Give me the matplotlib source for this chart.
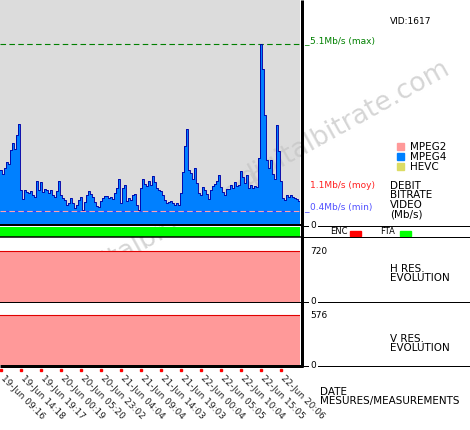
import numpy as np
import matplotlib
matplotlib.use("Agg")
from matplotlib import pyplot as plt
from matplotlib.patches import Rectangle
from matplotlib.transforms import blended_transform_factory, ScaledTranslation

plt.rcParams['font.family'] = ['DejaVu Sans']

# ---- data ----
bitrate = [
    1.56, 1.45, 1.62, 1.79, 1.72, 2.12, 2.32, 2.15, 2.55, 2.86,
    1.00, 0.75, 1.00, 0.95, 0.92, 0.97, 0.86, 0.80, 1.25, 1.00,
    1.22, 0.95, 1.03, 1.00, 0.92, 1.00, 0.85, 0.80, 0.97, 1.25,
    0.85, 0.78, 0.72, 0.58, 0.62, 0.77, 0.62, 0.50, 0.58, 0.72,
    0.80, 0.45, 0.66, 0.85, 0.98, 0.90, 0.80, 0.66, 0.55, 0.52,
    0.68, 0.77, 0.82, 0.82, 0.77, 0.80, 0.75, 0.92, 1.05, 1.30,
    0.62, 1.06, 1.14, 0.70, 0.77, 0.72, 0.85, 0.88, 0.58, 0.45,
    1.06, 1.32, 1.18, 1.12, 1.25, 1.15, 1.40, 1.22, 1.05, 1.00,
    0.98, 0.86, 0.72, 0.62, 0.66, 0.68, 0.63, 0.58, 0.63, 0.58,
    0.92, 1.50, 2.25, 2.72, 1.55, 1.48, 1.30, 1.62, 1.20, 0.92,
    0.86, 1.08, 1.00, 0.90, 0.75, 1.00, 1.12, 1.18, 1.25, 1.42,
    1.08, 0.94, 0.86, 1.03, 1.02, 1.15, 1.06, 1.22, 1.12, 1.15,
    1.52, 1.36, 1.20, 1.42, 1.06, 1.14, 1.05, 1.12, 1.08, 1.90,
    5.10, 4.40, 3.10, 1.85, 1.62, 1.84, 1.45, 1.30, 2.83, 2.10,
    1.25, 0.78, 0.72, 0.85, 0.80, 0.86, 0.80, 0.76, 0.74, 0.70,
]
rate_max = 5.1
rate_avg = 1.1
rate_min = 0.4
h_res = 720
v_res = 576
vid = 1617
date_labels = [
    "19-Jun 09:16", "19-Jun 14:18", "19-Jun 19:17", "20-Jun 00:19",
    "20-Jun 05:20", "20-Jun 23:02", "21-Jun 04:04", "21-Jun 09:04",
    "21-Jun 14:03", "21-Jun 19:03", "22-Jun 00:04", "22-Jun 05:05",
    "22-Jun 10:04", "22-Jun 15:05", "22-Jun 20:06",
]
codecs = ["MPEG2", "MPEG4", "HEVC"]
codec_colors = ["#ff9999", "#0080ff", "#dcdc64"]

W, H = 470, 430


def box(x0, y0, x1, y1):
    # pixel rectangle -> figure fraction
    return [x0 / W, 1 - y1 / H, (x1 - x0) / W, (y1 - y0) / H]


def bare(a):
    a.set_xticks([])
    a.set_yticks([])
    for s in a.spines.values():
        s.set_visible(False)


fig = plt.figure(figsize=(W / 100, H / 100), dpi=100)
fig.patch.set_facecolor("white")

n = len(bitrate)
edges = np.arange(n + 1)
vals = np.append(bitrate, bitrate[-1])

# ---- bitrate panel ----
ax = fig.add_axes(box(0, 0, 300, 225.5))
ax.set_facecolor("#dcdcdc")
bare(ax)
ax.set_xlim(0, n)
ax.set_ylim(0, 225.5 / 35.53)
ax.fill_between(edges, vals, step="post", color=codec_colors[1], lw=0, zorder=1)
ax.step(edges, vals, where="post", color="#0000a8", lw=0.65, zorder=2)
ax.axhline(rate_max, color="#008000", ls=(0, (5, 3)), lw=0.8, zorder=1.5)
ax.axhline(rate_min, color="#ff9fb0", ls=(0, (5, 3)), gapcolor="#3040ff", lw=0.8, zorder=3)

# watermark, under the data
for cx, cy in [(345, 124), (172, 226)]:
    ax.text(cx / W, 1 - cy / H, "digitalbitrate.com", transform=fig.transFigure,
            rotation=29, ha="center", va="center", fontsize=19,
            color="#c4c4c4", alpha=0.7, zorder=0.5, clip_on=False)

tr = blended_transform_factory(ax.transAxes, ax.transData)
ax.text(1.013, rate_max, "_", color="#008000", fontsize=6.5, transform=tr, va="baseline")
ax.text(1.033, rate_max, f"{rate_max}Mb/s (max)", color="#008000", fontsize=6.5,
        transform=tr, va="baseline")
ax.text(1.033, rate_avg - 0.05, f"{rate_avg}Mb/s (moy)", color="#ff2020", fontsize=6.5,
        transform=tr, va="baseline")
ax.text(1.013, rate_min, "_", color="#5050ff", fontsize=6.5, transform=tr, va="baseline")
ax.text(1.033, rate_min + 0.03, f"{rate_min}Mb/s (min)", color="#5050ff", fontsize=6.5,
        transform=tr, va="baseline")

# ---- FTA bar ----
ax_f = fig.add_axes(box(0, 226.5, 300, 236.5))
ax_f.set_facecolor("#00ff00")
bare(ax_f)

# ---- resolution panels ----
ax_h = fig.add_axes(box(0, 237.5, 300, 302))
ax_h.set_facecolor("none")
bare(ax_h)
ax_h.set_xlim(0, n)
ax_h.set_ylim(0, h_res * 64.5 / 51)
ax_h.fill_between(edges, [h_res] * (n + 1), color="#ff9999", lw=0)
ax_h.plot(edges, [h_res] * (n + 1), color="#e00000", lw=0.8)
trh = blended_transform_factory(ax_h.transAxes, ax_h.transData)
ax_h.text(1.033, h_res, str(h_res), fontsize=6.5, transform=trh, va="center")

ax_v = fig.add_axes(box(0, 302.5, 300, 365.5))
ax_v.set_facecolor("none")
for s in ax_v.spines.values():
    s.set_visible(False)
ax_v.set_yticks([])
ax_v.set_xlim(0, n)
ax_v.set_ylim(0, v_res * 63 / 50.5)
ax_v.fill_between(edges, [v_res] * (n + 1), color="#ff9999", lw=0)
ax_v.plot(edges, [v_res] * (n + 1), color="#e00000", lw=0.8)
trv = blended_transform_factory(ax_v.transAxes, ax_v.transData)
ax_v.text(1.033, v_res, str(v_res), fontsize=6.5, transform=trv, va="center")

ticks = np.arange(len(date_labels)) * 10
ax_v.set_xticks(ticks)
ax_v.set_xticklabels(date_labels, rotation=-45, ha="left", va="top",
                     rotation_mode="anchor", fontsize=6.5, color="#202020")
ax_v.tick_params(axis="x", length=0, pad=6)
shift = ScaledTranslation(5 / 100, 0, fig.dpi_scale_trans)
for lbl in ax_v.get_xticklabels():
    lbl.set_transform(lbl.get_transform() + shift)
ax_v.plot(ticks + 0.4, [-0.075] * len(ticks), "s", ms=1.6, color="#ff0000",
          transform=blended_transform_factory(ax_v.transData, ax_v.transAxes),
          clip_on=False)

# ---- frame lines and right-hand annotations (pixel overlay) ----
ov = fig.add_axes([0, 0, 1, 1], zorder=10)
ov.set_xlim(0, W)
ov.set_ylim(H, 0)
ov.axis("off")
ov.patch.set_alpha(0)

k = 0.72  # px -> pt
ov.plot([301.5, 301.5], [0, 367], color="black", lw=3 * k, solid_capstyle="butt")
ov.plot([0, 301], [225, 225], color="black", lw=2 * k)
ov.plot([0, 301], [237, 237], color="black", lw=1.5 * k)
ov.plot([303, 470], [237, 237], color="black", lw=1 * k)
ov.plot([0, 301], [302, 302], color="black", lw=1 * k)
ov.plot([0, 303], [366, 366], color="black", lw=3 * k, solid_capstyle="butt")
for yy in [226, 302, 366]:
    ov.plot([303, 308], [yy, yy], color="black", lw=1 * k)
    ov.plot([318, 470], [yy, yy], color="black", lw=1 * k)
    ov.text(310, yy, "0", fontsize=6.5, va="center", ha="left")

ov.text(330, 232, "ENC", fontsize=6, va="center")
ov.add_patch(Rectangle((350, 231), 11, 5, color="#ff0000"))
ov.text(380, 232, "FTA", fontsize=6, va="center")
ov.add_patch(Rectangle((400, 231), 11, 5, color="#00ff00"))

ov.text(390, 21, f"VID:{vid}", fontsize=6.5, va="center")
for j, (name, col) in enumerate(zip(codecs, codec_colors)):
    yy = 143 + j * 10
    ov.add_patch(Rectangle((397, yy), 7, 7, color=col))
    ov.text(410, yy + 3.5, name, fontsize=7.5, va="center")

ov.text(390, 181, "DEBIT\nBITRATE\nVIDEO\n(Mb/s)", fontsize=7.5, va="top", linespacing=0.92)
ov.text(390, 264, "H RES.\nEVOLUTION", fontsize=7.5, va="top", linespacing=0.92)
ov.text(390, 334, "V RES.\nEVOLUTION", fontsize=7.5, va="top", linespacing=0.92)
ov.text(320, 387, "DATE\nMESURES/MEASUREMENTS", fontsize=7.5, va="top", linespacing=0.92)

fig.savefig("out.png", dpi=100)
